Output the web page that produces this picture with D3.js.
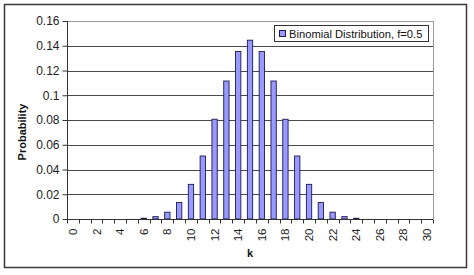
<!DOCTYPE html>
<html>
<head>
<meta charset="utf-8">
<script src="https://cdn.jsdelivr.net/npm/d3@7"></script>
<style>
  body { margin: 0; background: #fff; }
  svg { display: block; font-family: "Liberation Sans", Arial, sans-serif; }
</style>
</head>
<body>
<div id="vis-container"></div>
<script>
// chart data
const kValues = d3.range(0, 31);
const probabilities = [0, 0, 0, 0, 0, 0.00013, 0.0006, 0.0019, 0.0055, 0.0133,
  0.028, 0.0509, 0.0806, 0.1115, 0.1354, 0.1445, 0.1354, 0.1115, 0.0806, 0.0509,
  0.028, 0.0133, 0.0055, 0.0019, 0.0006, 0.00013, 0, 0, 0, 0, 0];
const yTicks = [0, 0.02, 0.04, 0.06, 0.08, 0.1, 0.12, 0.14, 0.16];
const xTickLabels = kValues.filter(k => k % 2 === 0);
const legendLabel = "Binomial Distribution, f=0.5";

const width = 474;
const height = 275;
const margin = { left: 67, right: 41, top: 21, bottom: 56 };

const svg = d3.select("#vis-container")
  .append("svg")
  .attr("width", width)
  .attr("height", height);

// outer chart frame
svg.append("rect")
  .attr("x", 4.5).attr("y", 4.5)
  .attr("width", 462).attr("height", 263)
  .attr("fill", "#fff")
  .attr("stroke", "#3a3a3a")
  .attr("stroke-width", 1.5);

const x = d3.scaleBand()
  .domain(kValues)
  .range([margin.left, width - margin.right])
  .paddingInner(0.55)
  .paddingOuter(0.275);

const y = d3.scaleLinear()
  .domain([0, 0.16])
  .range([height - margin.bottom, margin.top]);

// gridlines
svg.append("g")
  .selectAll("line")
  .data(yTicks.slice(1))
  .join("line")
  .attr("x1", margin.left).attr("x2", width - margin.right)
  .attr("y1", d => Math.round(y(d)) + 0.5)
  .attr("y2", d => Math.round(y(d)) + 0.5)
  .attr("stroke", d => d === 0.16 ? "#9a9a9a" : "#4a4a4a")
  .attr("stroke-width", 1.2);

// plot area right border
svg.append("line")
  .attr("x1", width - margin.right + 0.5).attr("x2", width - margin.right + 0.5)
  .attr("y1", margin.top).attr("y2", height - margin.bottom)
  .attr("stroke", "#9a9a9a");

// bars
svg.append("g")
  .selectAll("rect")
  .data(probabilities)
  .join("rect")
  .attr("x", (d, i) => x(kValues[i]))
  .attr("y", d => y(d))
  .attr("width", x.bandwidth())
  .attr("height", d => y(0) - y(d))
  .attr("fill", "#9999ff")
  .attr("stroke", "#1a1a50")
  .attr("stroke-width", d => d > 0.0002 ? 0.9 : 0);

// y axis
svg.append("g")
  .attr("transform", `translate(${margin.left + 0.5},0)`)
  .call(d3.axisLeft(y).tickValues(yTicks).tickFormat(d => d3.format("")(+d.toFixed(2))).tickSize(5).tickPadding(3))
  .call(g => g.select(".domain").attr("stroke", "#333").attr("d", `M0,${margin.top}V${y(0)}`))
  .call(g => g.selectAll(".tick line").attr("stroke", "#333"))
  .call(g => g.selectAll(".tick text").attr("font-size", "12px").attr("fill", "#222").attr("font-family", "Liberation Sans, Arial, sans-serif"));

// x axis with ticks between categories
const xAxis = svg.append("g")
  .attr("transform", `translate(0,${Math.round(y(0)) + 0.5})`);

xAxis.append("line")
  .attr("x1", margin.left).attr("x2", width - margin.right)
  .attr("stroke", "#333");

const step = x.step();
xAxis.selectAll(".tick-mark")
  .data(d3.range(0, kValues.length + 1))
  .join("line")
  .attr("class", "tick-mark")
  .attr("x1", i => Math.round(margin.left + i * step) + 0.5)
  .attr("x2", i => Math.round(margin.left + i * step) + 0.5)
  .attr("y1", 0).attr("y2", 4)
  .attr("stroke", "#333");

xAxis.selectAll(".tick-label")
  .data(xTickLabels)
  .join("text")
  .attr("class", "tick-label")
  .attr("transform", d => `translate(${x(d) + x.bandwidth() / 2 + 4},9) rotate(-90)`)
  .attr("text-anchor", "end")
  .attr("font-size", "11.5px")
  .attr("fill", "#222")
  .text(d => d);

// axis titles
svg.append("text")
  .attr("x", 250).attr("y", 257)
  .attr("text-anchor", "middle")
  .attr("font-size", "11px")
  .attr("font-weight", "bold")
  .attr("fill", "#111")
  .text("k");

svg.append("text")
  .attr("transform", "translate(26,132) rotate(-90)")
  .attr("text-anchor", "middle")
  .attr("font-size", "11px")
  .attr("font-weight", "bold")
  .attr("fill", "#111")
  .text("Probability");

// legend
const legend = svg.append("g");
legend.append("rect")
  .attr("x", 274.5).attr("y", 25.5)
  .attr("width", 154).attr("height", 16)
  .attr("fill", "#fff")
  .attr("stroke", "#333");
legend.append("rect")
  .attr("x", 279.5).attr("y", 30.5)
  .attr("width", 6).attr("height", 6)
  .attr("fill", "#9999ff")
  .attr("stroke", "#1a1a50");
legend.append("text")
  .attr("x", 289).attr("y", 37.5)
  .attr("font-size", "11.2px")
  .attr("fill", "#111")
  .text(legendLabel);
</script>
</body>
</html>
